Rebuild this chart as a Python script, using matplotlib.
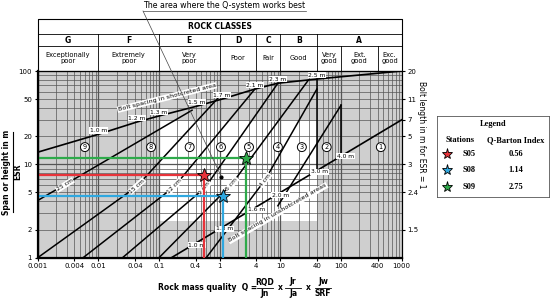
import numpy as np
import matplotlib.pyplot as plt
import matplotlib.transforms as mtransforms
from matplotlib.lines import Line2D

# ---- data ----
span_ticks = [1, 2, 5, 10, 20, 50, 100]
q_ticks = [0.001, 0.004, 0.01, 0.04, 0.1, 0.4, 1, 4, 10, 40, 100, 400, 1000]
q_tick_labels = ['0.001', '0.004', '0.01', '0.04', '0.1', '0.4', '1', '4', '10', '40', '100', '400', '1000']
bolt_span = [100, 50, 30, 20, 10, 5, 2]
bolt_labels = ['20', '11', '7', '5', '3', '2.4', '1.5']

class_edges = [0.001, 0.01, 0.1, 1, 4, 10, 40, 1000]
class_letters = ['G', 'F', 'E', 'D', 'C', 'B', 'A']
desc_edges = [0.001, 0.01, 0.1, 1, 4, 10, 40, 100, 400, 1000]
desc_names = ['Exceptionally\npoor', 'Extremely\npoor', 'Very\npoor', 'Poor', 'Fair',
              'Good', 'Very\ngood', 'Ext.\ngood', 'Exc.\ngood']

# support category boundaries (Q, span/ESR)
boundaries = [
    [(0.001, 4.1), (0.35, 38)],
    [(0.001, 1), (0.043, 5.8), (0.93, 51)],
    [(0.0056, 1), (0.18, 5.8), (3.8, 64)],
    [(0.025, 1), (0.57, 5.6), (9.1, 74)],
    [(0.1, 1), (1.6, 6.2), (29, 80)],
    [(0.6, 1), (5.6, 6.8), (40, 64)],
    [(9.1, 3.6), (100, 43)],
    [(40, 82), (40, 8.9)],
    [(100, 43), (100, 13)],
]
# bolt spacing in shotcreted area
shot_q = [0.001, 0.01, 0.043, 0.1, 0.42, 1.09, 3.8, 9.1, 40, 1000]
shot_s = [13.5, 21, 28.4, 33, 42, 50, 64, 74, 82, 100]
shot_lab = ['', '1.0 m', '1.2 m', '1.3 m', '1.5 m', '1.7 m', '2.1 m', '2.3 m', '2.5 m', '']
# bolt spacing in unshotcreted area
unshot_q = [0.16, 1000]
unshot_s = [1, 30]
unshot_lab_q = [0.42, 1.2, 4.0, 10, 44, 118]
unshot_lab = ['1.0 m', '1.3 m', '1.6 m', '2.0 m', '3.0 m', '4.0 m']

thick_lab_q = [0.0028, 0.043, 0.18, 0.57, 1.6, 5.6]
thick_lab_s = [6.0, 5.85, 5.85, 5.6, 6.15, 6.8]
thick_rot = [32, 42, 46, 52, 50, 52]
thick_lab = ['25 cm', '15 cm', '12 cm', '9 cm', '5 cm', '4 cm']

circle_q = [0.006, 0.074, 0.32, 1.05, 3.04, 9.1, 22.6, 58, 453]
circle_n = ['9', '8', '7', '6', '5', '4', '3', '2', '1']

stations = ['S05', 'S08', 'S09']
q_index = [0.56, 1.14, 2.75]
st_span = [7.7, 4.6, 11.7]
st_colors = ['#e8333a', '#2fa8e0', '#2eaa4a']

W, H = 550, 299
fig = plt.figure(figsize=(5.5, 2.99), dpi=100)
ax = fig.add_axes([37.7 / W, 1 - 257.7 / H, 364 / W, 186.7 / H])
ax.set_xscale('log')
ax.set_yscale('log')
ax.set_xlim(0.001, 1000)
ax.set_ylim(1, 100)
ax.set_facecolor('#cfcfcf')

# white area where Q works best
ax.fill_between([0.1, 40], 2.5, 29, color='white', zorder=0.5, lw=0)

# printed grid
for dec in range(-3, 3):
    for m in range(1, 10):
        v = m * 10.0 ** dec
        ax.axvline(v, color='#555555', lw=0.9 if m == 1 else 0.5, zorder=1)
for dec in range(0, 2):
    for m in range(1, 10):
        v = m * 10.0 ** dec
        ax.axhline(v, color='#555555', lw=0.9 if m == 1 else 0.5, zorder=1)

for b in boundaries:
    q, s = zip(*b)
    ax.plot(q, s, color='black', lw=1.1, zorder=3)

ax.plot(shot_q, shot_s, color='black', lw=1.2, zorder=3)
ax.plot(unshot_q, unshot_s, color='black', lw=1.2, zorder=3)

box = dict(boxstyle='square,pad=0.1', fc='white', ec='none')
for q, s, t in zip(shot_q, shot_s, shot_lab):
    if t:
        ax.text(q, s * 1.1, t, fontsize=4.3, ha='center', va='center', bbox=box, zorder=4)
for q, t in zip(unshot_lab_q, unshot_lab):
    s = 10 ** (np.interp(np.log10(q), np.log10(unshot_q), np.log10(unshot_s)))
    ax.text(q, s / 1.07, t, fontsize=4.3, ha='center', va='center', bbox=box, zorder=4)
for q, s, r, t in zip(thick_lab_q, thick_lab_s, thick_rot, thick_lab):
    ax.text(q, s, t, fontsize=4.3, ha='center', va='center', rotation=r,
            bbox=box, zorder=4)

ax.text(0.135, 52, 'Bolt spacing in shotcreted area', fontsize=4.6, rotation=14,
        ha='center', va='center', bbox=box, zorder=4)
ax.text(9.1, 3.0, 'Bolt spacing in unshotcreted areas', fontsize=4.6, rotation=30,
        ha='center', va='center', bbox=box, zorder=4)

for q, t in zip(circle_q, circle_n):
    ax.text(q, 15.3, t, fontsize=4.8, ha='center', va='center', zorder=5,
            bbox=dict(boxstyle='circle,pad=0.22', fc='white', ec='black', lw=0.7))

# stations
for q, s, c in zip(q_index, st_span, st_colors):
    ax.plot([0.001, q], [s, s], color=c, lw=1.6, zorder=6)
    ax.plot([q, q], [1, s], color=c, lw=1.6, zorder=6)
    ax.plot(q, s, marker='*', ms=10, mfc=c, mec='black', mew=0.6, zorder=7)
ax.plot(1.05, 7.4, 'o', color='black', ms=2, zorder=7)

for side in ['left', 'bottom']:
    ax.spines[side].set_linewidth(1.6)
ax.set_xticks(q_ticks)
ax.set_xticklabels(q_tick_labels)
ax.set_yticks(span_ticks)
ax.set_yticklabels([str(v) for v in span_ticks])
ax.minorticks_off()
ax.tick_params(labelsize=5, length=2, pad=2)

ax2 = ax.twinx()
ax2.set_yscale('log')
ax2.set_ylim(1, 100)
ax2.set_yticks(bolt_span)
ax2.set_yticklabels(bolt_labels)
ax2.minorticks_off()
ax2.tick_params(labelsize=5, length=2, pad=2)

# header table
tr = mtransforms.blended_transform_factory(ax.transData, ax.transAxes)
top, r1, r2 = 1.280, 1.198, 1.134
ax.plot([0.001, 1000, 1000, 0.001, 0.001], [1, 1, top, top, 1], transform=tr,
        color='black', lw=0.8, clip_on=False)
ax.plot([0.001, 1000], [r1, r1], transform=tr, color='black', lw=0.6, clip_on=False)
ax.plot([0.001, 1000], [r2, r2], transform=tr, color='black', lw=0.6, clip_on=False)
for e in class_edges[1:-1]:
    ax.plot([e, e], [1, r1], transform=tr, color='black', lw=0.6, clip_on=False)
for e in [100, 400]:
    ax.plot([e, e], [1, r2], transform=tr, color='black', lw=0.6, clip_on=False)
ax.text(1.0, (top + r1) / 2, 'ROCK CLASSES', transform=tr, fontsize=5.5,
        fontweight='bold', ha='center', va='center')
for a, b, t in zip(class_edges[:-1], class_edges[1:], class_letters):
    ax.text(np.sqrt(a * b), (r1 + r2) / 2, t, transform=tr, fontsize=5.5,
            fontweight='bold', ha='center', va='center')
for a, b, t in zip(desc_edges[:-1], desc_edges[1:], desc_names):
    ax.text(np.sqrt(a * b), (r2 + 1) / 2, t, transform=tr, fontsize=4.8,
            ha='center', va='center', linespacing=1.0)

# annotation line from the title
fig.text(224 / W, 1 - 6 / H, 'The area where the Q-system works best', fontsize=5.7,
         ha='center', va='center')
fig.add_artist(Line2D([143 / W, 306 / W], [1 - 11 / H, 1 - 11 / H], color='#444444', lw=0.5))
fig.add_artist(Line2D([143 / W, 221 / W], [1 - 11 / H, 1 - 176 / H], color='#444444', lw=0.5))

# y label as fraction
fig.text(7 / W, 1 - 172 / H, 'Span or height in m', rotation=90, fontsize=5.5,
         fontweight='bold', ha='center', va='center')
fig.text(18 / W, 1 - 172 / H, 'ESR', rotation=90, fontsize=5.5,
         fontweight='bold', ha='center', va='center')
fig.add_artist(Line2D([12.5 / W, 12.5 / W], [1 - 132 / H, 1 - 212 / H], color='black', lw=0.8))

fig.text(422 / W, 1 - 135 / H, 'Bolt length in m for ESR = 1', rotation=-90,
         fontsize=5.5, ha='center', va='center')

# x label with fractions
xl = dict(fontsize=5.5, fontweight='bold', va='center')
fig.text(158 / W, 1 - 287 / H, 'Rock mass quality  Q =', ha='left', **xl)
for xc, num, den in [(265, 'RQD', 'Jn'), (293, 'Jr', 'Ja'), (323, 'Jw', 'SRF')]:
    fig.text(xc / W, 1 - 282 / H, num, ha='center', **xl)
    fig.text(xc / W, 1 - 293 / H, den, ha='center', **xl)
    fig.add_artist(Line2D([(xc - 8) / W, (xc + 8) / W], [1 - 287.5 / H] * 2, color='black', lw=0.6))
for xc in [280, 308]:
    fig.text(xc / W, 1 - 287 / H, 'x', ha='center', **xl)

# legend box
lg = fig.add_axes([437 / W, 1 - 197 / H, 112 / W, 81 / H])
lg.set_xlim(0, 112)
lg.set_ylim(81, 0)
lg.set_xticks([])
lg.set_yticks([])
for s in lg.spines.values():
    s.set_linewidth(0.6)
    s.set_color('#555555')
sf = dict(family='Liberation Serif', fontweight='bold', fontsize=6, va='center')
lg.text(56, 8, 'Legend', ha='center', **sf)
lg.text(23, 24, 'Stations', ha='center', **sf)
lg.text(79, 24, 'Q-Barton Index', ha='center', **sf)
for i, (st, qv, c) in enumerate(zip(stations, q_index, st_colors)):
    yy = 38 + i * 16.3
    lg.plot(10, yy, marker='*', ms=8, mfc=c, mec='black', mew=0.6)
    lg.text(32, yy, st, ha='center', **sf)
    lg.text(79, yy, f'{qv:.2f}', ha='center', **sf)

fig.savefig('out.png', dpi=100)
